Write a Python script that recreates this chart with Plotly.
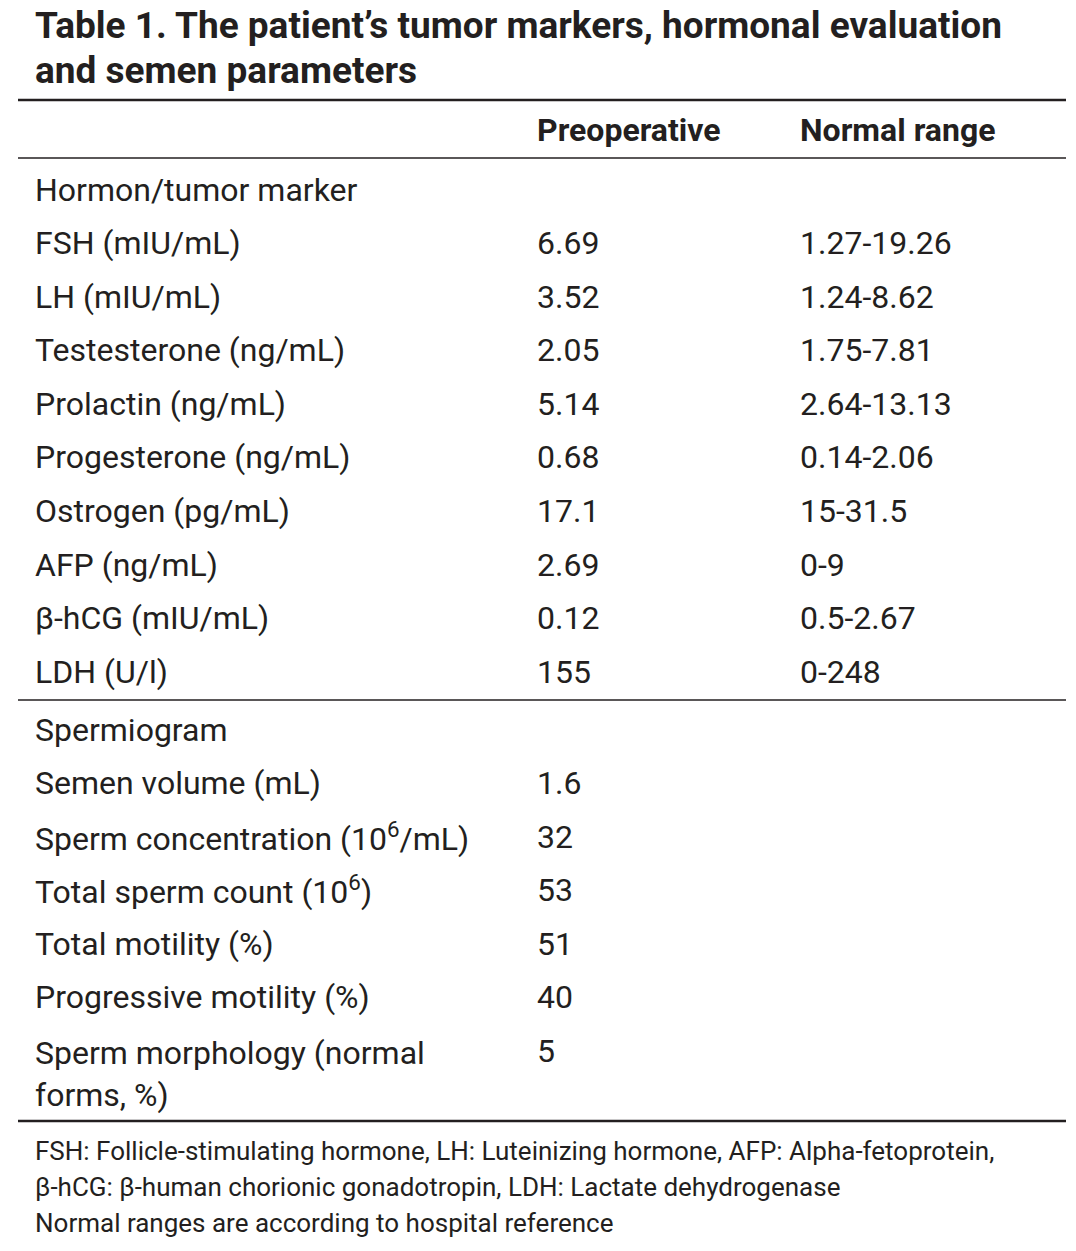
import plotly.graph_objects as go

title_lines = ["Table 1. The patient’s tumor markers, hormonal evaluation",
               "and semen parameters"]
headers = ["Preoperative", "Normal range"]

hormone_section = "Hormon/tumor marker"
hormone_names = ["FSH (mIU/mL)", "LH (mIU/mL)", "Testesterone (ng/mL)", "Prolactin (ng/mL)",
                 "Progesterone (ng/mL)", "Ostrogen (pg/mL)", "AFP (ng/mL)",
                 "β-hCG (mIU/mL)", "LDH (U/l)"]
hormone_preop = ["6.69", "3.52", "2.05", "5.14", "0.68", "17.1", "2.69", "0.12", "155"]
hormone_range = ["1.27-19.26", "1.24-8.62", "1.75-7.81", "2.64-13.13", "0.14-2.06",
                 "15-31.5", "0-9", "0.5-2.67", "0-248"]

sperm_section = "Spermiogram"
sperm_names = ["Semen volume (mL)", "Sperm concentration (10<sup>6</sup>/mL)",
               "Total sperm count (10<sup>6</sup>)", "Total motility (%)",
               "Progressive motility (%)", "Sperm morphology (normal<br>forms, %)"]
sperm_preop = ["1.6", "32", "53", "51", "40", "5"]

footnotes = ["FSH: Follicle-stimulating hormone, LH: Luteinizing hormone, AFP: Alpha-fetoprotein,",
             "β-hCG: β-human chorionic gonadotropin, LDH: Lactate dehydrogenase",
             "Normal ranges are according to hospital reference"]

FONT = "Roboto"
COL = "#231f20"
W, H = 1076, 1251
OFF = 8  # page body margin
x_name, x_pre, x_rng = 33 - OFF, 535 - OFF, 798 - OFF
row_h = 53.6

fig = go.Figure()
ann = []

def txt(x, y, s, size=32, bold=False, yanchor="middle"):
    ann.append(dict(x=x, y=y - OFF, xref="x", yref="y", text=f"<b>{s}</b>" if bold else s,
                    showarrow=False, xanchor="left", yanchor=yanchor, align="left",
                    font=dict(family=FONT, size=size, color=COL)))

for i, t in enumerate(title_lines):
    txt(x_name, 25 + i * 45, t, size=37, bold=True)
txt(x_pre, 130, headers[0], bold=True)
txt(x_rng, 130, headers[1], bold=True)

txt(x_name, 190, hormone_section)
for i, (n, p, r) in enumerate(zip(hormone_names, hormone_preop, hormone_range)):
    y = 243 + i * row_h
    txt(x_name, y, n); txt(x_pre, y, p); txt(x_rng, y, r)

txt(x_name, 730, sperm_section)
for i, (n, p) in enumerate(zip(sperm_names, sperm_preop)):
    y = 783 + i * row_h
    if "<br>" in n:
        txt(x_name, y - 19, n, yanchor="top")
    else:
        txt(x_name, y, n)
    txt(x_pre, y, p)

for i, f in enumerate(footnotes):
    txt(x_name, 1151 + i * 36, f, size=26)

shapes = [dict(type="line", xref="x", yref="y", x0=18 - OFF, x1=1066 - OFF, y0=y - OFF, y1=y - OFF,
               line=dict(color=COL, width=w)) for y, w in [(100, 2.5), (158, 1.5), (700, 1.5), (1121, 2.5)]]

fig.update_layout(width=W, height=H, margin=dict(l=0, r=0, t=0, b=0),
                  plot_bgcolor="white", paper_bgcolor="white",
                  annotations=ann, shapes=shapes, showlegend=False,
                  xaxis=dict(range=[0, W], visible=False, fixedrange=True),
                  yaxis=dict(range=[H, 0], visible=False, fixedrange=True))
fig.write_html("out.html")
